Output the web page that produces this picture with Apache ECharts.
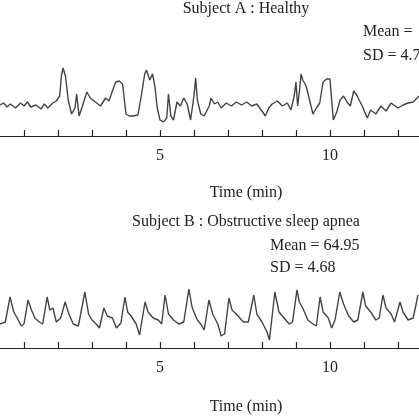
<!DOCTYPE html>
<html><head><meta charset="utf-8">
<script src="https://cdn.jsdelivr.net/npm/echarts@6/dist/echarts.min.js"></script>
<style>html,body{margin:0;padding:0;background:#fff}#c{width:419px;height:419px}</style>
</head><body><div id="c"></div>
<script>
const tA=[0.29,0.4,0.5,0.6,0.75,0.9,1.0,1.1,1.2,1.35,1.5,1.6,1.7,1.85,1.95,2.05,2.1,2.15,2.22,2.3,2.4,2.5,2.55,2.62,2.7,2.85,2.95,3.1,3.25,3.4,3.5,3.6,3.7,3.8,3.9,4.0,4.1,4.2,4.35,4.45,4.55,4.6,4.7,4.78,4.85,4.92,5.0,5.1,5.2,5.25,5.32,5.4,5.5,5.6,5.7,5.8,5.9,6.0,6.05,6.1,6.2,6.3,6.45,6.5,6.6,6.7,6.8,6.95,7.1,7.25,7.4,7.55,7.7,7.85,8.0,8.1,8.2,8.3,8.45,8.6,8.75,8.85,8.95,9.0,9.05,9.1,9.15,9.2,9.3,9.4,9.5,9.6,9.7,9.75,9.8,9.9,10.0,10.05,10.1,10.2,10.3,10.4,10.5,10.6,10.7,10.8,10.95,11.1,11.2,11.35,11.5,11.65,11.8,12.0,12.15,12.3,12.45,12.62];
const vA=[31,33,29,32,28,33,30,34,29,31,27,32,28,33,35,40,60,68,60,36,22,28,42,20,28,44,38,34,30,38,35,45,54,55,52,22,20,20,21,40,62,66,56,62,50,28,16,14,18,42,20,16,34,30,38,32,16,40,58,36,22,20,30,38,32,34,28,33,30,34,31,34,30,32,25,20,28,32,35,30,33,26,40,54,30,44,62,56,50,36,22,28,33,44,54,57,57,58,16,24,36,40,34,30,45,40,30,18,26,22,30,25,33,28,31,33,34,40];
const tB=[0.29,0.45,0.59,0.7,0.8,0.92,1.0,1.12,1.22,1.32,1.45,1.55,1.68,1.76,1.85,1.95,2.08,2.21,2.32,2.45,2.6,2.79,2.9,3.0,3.12,3.22,3.35,3.45,3.6,3.72,3.85,3.97,4.05,4.15,4.3,4.4,4.56,4.65,4.8,4.95,5.05,5.15,5.25,5.4,5.55,5.7,5.85,5.95,6.1,6.2,6.3,6.44,6.55,6.7,6.8,6.9,7.03,7.12,7.3,7.45,7.6,7.76,7.85,8.0,8.15,8.22,8.38,8.5,8.65,8.8,8.9,9.03,9.1,9.2,9.35,9.5,9.6,9.71,9.8,9.95,10.05,10.15,10.29,10.4,10.55,10.7,10.82,10.97,11.05,11.2,11.35,11.45,11.56,11.65,11.8,11.9,12.06,12.15,12.3,12.45,12.59];
const vB=[24,26,51,36,30,22,24,48,38,30,26,24,51,38,40,26,30,46,34,24,22,56,34,28,24,20,40,32,30,20,25,51,36,32,24,13,46,36,30,28,24,53,34,28,24,26,59,40,28,24,18,48,34,24,12,14,50,38,32,26,26,53,34,26,16,8,56,36,30,24,26,58,46,40,28,24,22,51,36,30,20,28,56,44,32,26,28,56,42,36,28,30,53,40,34,26,46,36,28,30,53];
const tickVals=[1,2,3,4,5,6,7,8,9,10,11,12];
const labelVals=[5,10];
const chart=echarts.init(document.getElementById('c'));
const F='"Liberation Serif", "DejaVu Serif", serif';
function xa(i){return {type:'value',gridIndex:i,min:0.294,max:12.62,
  axisLine:{onZero:false,lineStyle:{color:'#222',width:1.2}},
  axisTick:{inside:true,length:6,customValues:tickVals,lineStyle:{color:'#222',width:1.2}},
  splitLine:{show:false},
  axisLabel:{fontFamily:F,fontSize:16,color:'#222',margin:12,customValues:labelVals}};}
function ya(i){return {type:'value',gridIndex:i,min:0,max:86,show:false};}
function txt(x,y,s,align){return {type:'text',x:x,y:y,style:{text:s,font:'16px '+F,fill:'#222',textAlign:align||'left',textVerticalAlign:'middle'}};}
chart.setOption({
  animation:false,
  grid:[{left:0,right:0,top:50,height:86},{left:0,right:0,top:262,height:86}],
  xAxis:[xa(0),xa(1)],
  yAxis:[ya(0),ya(1)],
  series:[
    {type:'line',xAxisIndex:0,yAxisIndex:0,showSymbol:false,data:tA.map((t,i)=>[t,vA[i]]),lineStyle:{color:'#444',width:1.4}},
    {type:'line',xAxisIndex:1,yAxisIndex:1,showSymbol:false,data:tB.map((t,i)=>[t,vB[i]]),lineStyle:{color:'#444',width:1.4}}
  ],
  graphic:[
    txt(246,9,'Subject A : Healthy','center'),
    txt(363,32,'Mean = '),
    txt(363,56,'SD = 4.7'),
    txt(246,193,'Time (min)','center'),
    txt(246,222,'Subject B : Obstructive sleep apnea','center'),
    txt(270,246,'Mean = 64.95'),
    txt(270,268,'SD = 4.68'),
    txt(246,407,'Time (min)','center')
  ]
});
</script></body></html>
